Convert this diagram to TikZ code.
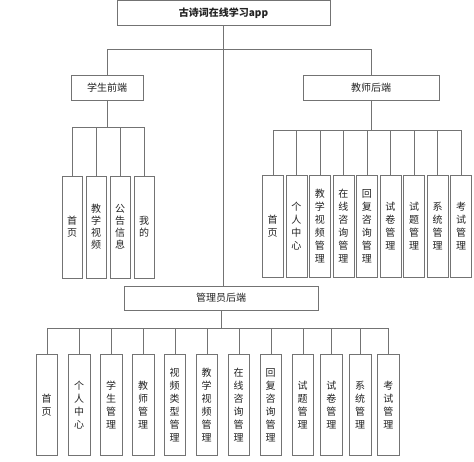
\documentclass[tikz,border=0pt]{standalone}
\usepackage{fontspec}
\setmainfont{Noto Sans CJK SC}
\definecolor{linegray}{RGB}{115,115,115}
\definecolor{textgray}{RGB}{35,35,35}
\begin{document}
\begin{tikzpicture}[x=1pt,y=1pt]
\tikzstyle{every node}+=[inner sep=0pt, text=textgray, font=\fontsize{10}{13}\selectfont]
\tikzstyle{headbox}=[draw=linegray, rectangle, minimum height=24.5pt]
\tikzstyle{leafbox}=[draw=linegray, rectangle, minimum width=21pt, minimum height=102pt, align=center]
\useasboundingbox (0,0) rectangle (474,-462);
% top levels
\node [headbox, minimum width=213pt, font=\bfseries\fontsize{10}{13}\selectfont] (app) at (223.5,-12.75) {古诗词在线学习app};
\node [headbox, minimum width=72pt] (stu) at (107,-87.5) {学生前端};
\node [headbox, minimum width=136pt] (tea) at (371,-87.5) {教师后端};
\node [headbox, minimum width=194pt, minimum height=24pt] (adm) at (221,-298) {管理员后端};
\coordinate (rbar) at (223.5,-49);
\draw [linegray] (app.south) -- (app.south |- adm.north);
\draw [linegray] (rbar) -| (stu.north);
\draw [linegray] (rbar) -| (tea.north);
% student
\foreach \t [count=\i] in {{首\\页},{教\\学\\视\\频},{公\\告\\信\\息},{我\\的}}
  \node [leafbox, minimum width=20.5pt, font=\fontsize{10}{12}\selectfont] (s\i) at ({72+24*(\i-1)},-227) {\t};
\coordinate (sbar) at (107,-127);
\draw [linegray] (stu.south) -- (sbar);
\foreach \i in {1,...,4}
  \draw [linegray] (sbar) -| (s\i.north);
% teacher
\foreach \t [count=\i] in {{首\\页},{个\\人\\中\\心},{教\\学\\视\\频\\管\\理},{在\\线\\咨\\询\\管\\理},{回\\复\\咨\\询\\管\\理},{试\\卷\\管\\理},{试\\题\\管\\理},{系\\统\\管\\理},{考\\试\\管\\理}}
  \node [leafbox] (t\i) at ({272.7+23.55*(\i-1)},-226) {\t};
\coordinate (tbar) at (371,-130);
\draw [linegray] (tea.south) -- (tbar);
\foreach \i in {1,...,9}
  \draw [linegray] (tbar) -| (t\i.north);
% admin
\foreach \x/\t [count=\i] in {46.7/{首\\页},79/{个\\人\\中\\心},111/{学\\生\\管\\理},143/{教\\师\\管\\理},174.7/{视\\频\\类\\型\\管\\理},206.7/{教\\学\\视\\频\\管\\理},238.7/{在\\线\\咨\\询\\管\\理},270.7/{回\\复\\咨\\询\\管\\理},302.7/{试\\题\\管\\理},331.3/{试\\卷\\管\\理},360/{系\\统\\管\\理},388.3/{考\\试\\管\\理}}
  \node [leafbox, minimum width=21.5pt, minimum height=101.5pt] (a\i) at (\x,-404.75) {\t};
\coordinate (abar) at (221,-328);
\draw [linegray] (adm.south) -- (abar);
\foreach \i in {1,...,12}
  \draw [linegray] (abar) -| (a\i.north);
\end{tikzpicture}
\end{document}
